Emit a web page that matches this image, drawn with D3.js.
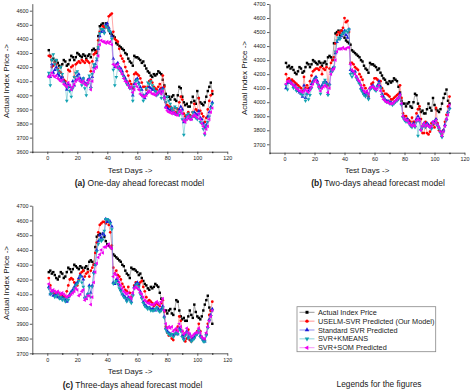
<!DOCTYPE html>
<html lang="en">
<head>
<meta charset="UTF-8">
<title>Actual vs predicted index price, three forecast horizons</title>
<script src="https://d3js.org/d3.v7.min.js"></script>
<style>
  body { margin: 0; background: #fff; }
  svg text { font-family: "Liberation Sans", Arial, sans-serif; fill: #1a1a1a; }
</style>
</head>
<body>
<div id="chart"></div>
<script>

// actual index price, 112 test days; panel b starts one day later, panel c two days later
var actualIndex = [4320,4280,4250,4260,4240,4250,4230,4210,4200,4220,
  4250,4240,4210,4220,4250,4280,4270,4250,4270,4300,
  4290,4280,4270,4290,4280,4260,4280,4290,4270,4320,
  4330,4320,4300,4420,4490,4500,4510,4480,4510,4490,
  4460,4440,4430,4420,4410,4370,4360,4350,4340,4330,
  4320,4300,4290,4260,4240,4230,4210,4280,4270,4270,
  4260,4250,4230,4240,4210,4190,4170,4160,4140,4130,
  4150,4140,4150,4170,4160,4150,4110,4070,4010,3990,
  3990,3970,3990,4000,3970,3960,4000,4060,4050,3990,
  3950,3930,3940,3920,3920,3950,3990,3960,3940,4030,
  3980,3950,3940,3930,3950,3990,4030,4060,4090,4010,
  3990,3900];
var dayOffset = [0, 1, 2];

// (a) one-day ahead
var uselmA = [4280,4275,4200,4210,4230,4220,4190,4170,4160,4130,
  4110,4100,4060,4180,4170,4200,4210,4130,4220,4230,
  4240,4230,4250,4240,4230,4250,4240,4230,4170,4240,
  4290,4300,4310,4390,4450,4470,4490,4480,4490,4480,
  4560,4570,4580,4450,4400,4390,4380,4330,4280,4260,
  4240,4200,4170,4140,4100,4080,4050,4150,4160,4150,
  4140,4120,4090,4060,4060,4040,4060,4100,4110,4090,
  4060,4050,4040,4060,4080,4050,4140,4060,3950,3930,
  3920,3920,3900,3890,3910,3880,3900,3950,3990,3970,
  3870,3850,3860,3880,3860,3850,3880,3940,3900,3890,
  3980,3890,3870,3850,3810,3840,3900,3960,4000,4030];
var svrA = [4140,4130,4220,4160,4180,4200,4150,4140,4120,4130,
  4100,4080,4040,4080,4060,4040,4100,4070,4110,4140,
  4150,4120,4100,4120,4090,4080,4110,4120,4060,4130,
  4200,4220,4250,4330,4420,4450,4460,4450,4500,4510,
  4480,4450,4420,4260,4200,4220,4230,4200,4190,4170,
  4140,4120,4100,4080,4060,4050,4000,4080,4110,4120,
  4090,4060,4040,4000,3980,4010,4020,4060,4050,4040,
  4040,4030,4010,4020,4040,4020,4050,3990,3920,3910,
  3900,3890,3910,3880,3870,3860,3870,3900,3920,3900,
  3810,3830,3850,3860,3840,3830,3850,3880,3870,3860,
  3890,3840,3830,3800,3770,3790,3850,3880,3920,3950];
var kmeansA = [4160,4070,4250,4290,4220,4250,4180,4160,4200,4150,
  4090,4070,3960,4060,4030,3990,4050,4130,4160,4170,
  4120,4100,4070,4120,4050,4000,4080,4140,4050,4150,
  4220,4200,4260,4340,4440,4470,4470,4440,4490,4480,
  4460,4450,4400,4180,4070,4130,4200,4180,4170,4150,
  4130,4110,4080,4070,4050,4060,3960,4060,4100,4110,
  4080,4040,4000,3960,4000,4050,4090,4080,4100,4070,
  4050,4030,4000,4010,4030,3980,4040,3970,3950,3990,
  3960,3940,3910,3890,3920,3910,3880,3860,3880,3830,
  3720,3820,3860,3870,3840,3850,3880,3850,3840,3830,
  3870,3810,3800,3760,3720,3780,3810,3850,3910,3940];
var somA = [4130,4140,4160,4140,4130,4140,4120,4110,4100,4110,
  4080,4070,4060,4090,4070,4040,4060,4080,4100,4110,
  4120,4100,4090,4100,4080,4070,4090,4110,4040,4100,
  4170,4190,4200,4280,4360,4390,4380,4380,4370,4380,
  4370,4380,4360,4220,4210,4200,4220,4190,4170,4150,
  4120,4100,4090,4070,4050,4060,4020,4040,4080,4060,
  4040,4010,4000,3990,3990,4000,4020,4030,4020,4010,
  4010,4000,4010,4020,4030,4010,4030,3980,3910,3890,
  3880,3880,3870,3880,3870,3860,3860,3880,3890,3870,
  3820,3810,3830,3850,3830,3830,3850,3860,3850,3840,
  3870,3830,3800,3780,3730,3760,3780,3830,3880,3910];

// (b) two-days ahead
var uselmB = [4200,4160,4170,4150,4160,4150,4140,4130,4120,4110,
  4100,4080,4180,4100,4120,4100,4150,4190,4220,4230,
  4240,4240,4230,4250,4200,4240,4230,4250,4120,4240,
  4280,4300,4320,4420,4480,4500,4490,4510,4530,4600,
  4570,4580,4500,4280,4280,4270,4250,4240,4230,4200,
  4180,4160,4120,4100,4060,4040,4100,4130,4140,4170,
  4170,4160,4130,4150,4100,4080,4060,4060,4050,4040,
  4020,4020,4030,4040,4050,4060,4120,4030,3920,3900,
  3900,3880,3870,3860,3890,3860,3860,3920,3950,3970,
  3880,3780,3780,3860,3780,3770,3790,3850,3840,3820,
  3960,3850,3800,3790,3770,3800,3860,3910,3970,4040];
var svrB = [4100,4140,4140,4150,4130,4110,4120,4090,4080,4070,
  4060,4040,4120,4030,4060,4080,4100,4130,4150,4170,
  4180,4150,4120,4100,4120,4140,4150,4140,4060,4130,
  4220,4240,4250,4350,4430,4450,4460,4470,4490,4510,
  4480,4460,4520,4230,4220,4210,4220,4180,4160,4140,
  4100,4080,4060,4050,4070,4030,4100,4110,4120,4100,
  4090,4120,4150,4110,4060,4040,4020,4010,4010,4000,
  4000,3990,4000,4010,4020,4030,4060,3990,3900,3880,
  3870,3880,3860,3840,3830,3850,3830,3880,3900,3880,
  3810,3830,3850,3830,3850,3840,3830,3820,3860,3860,
  3880,3840,3820,3790,3760,3800,3840,3880,3930,3960];
var kmeansB = [4120,4090,4150,4140,4130,4100,4110,4080,4100,4080,
  4060,4050,4090,4010,4060,4020,4050,4100,4140,4160,
  4170,4130,4100,4060,4110,4140,4160,4130,4050,4120,
  4230,4220,4250,4360,4440,4460,4450,4480,4490,4500,
  4510,4500,4520,4200,4180,4200,4210,4170,4150,4130,
  4090,4070,4050,4040,4060,4020,4090,4100,4110,4090,
  4080,4110,4130,4100,4050,4030,4010,4000,4000,3990,
  3990,3980,3990,4000,4010,4020,4040,3980,3890,3870,
  3860,3870,3850,3830,3820,3840,3820,3860,3760,3860,
  3800,3820,3840,3820,3840,3830,3820,3810,3850,3850,
  3870,3830,3810,3780,3750,3790,3830,3870,3920,3950];
var somB = [4130,4150,4150,4140,4130,4120,4110,4100,4090,4080,
  4080,4070,4080,4090,4080,4070,4090,4110,4130,4150,
  4160,4140,4110,4080,4100,4110,4120,4110,4070,4100,
  4200,4230,4240,4300,4360,4380,4380,4380,4390,4380,
  4380,4390,4390,4270,4230,4220,4200,4180,4160,4150,
  4120,4100,4080,4070,4080,4060,4100,4110,4110,4100,
  4090,4100,4120,4080,4040,4020,4010,4000,4000,3990,
  3990,3990,4000,4010,4020,4030,4050,3990,3900,3880,
  3870,3870,3850,3840,3830,3840,3830,3870,3880,3870,
  3800,3830,3850,3830,3840,3830,3820,3830,3860,3850,
  3870,3840,3820,3790,3760,3790,3830,3880,3910,3980];

// (c) three-days ahead
var uselmC = [4210,4160,4120,4110,4100,4100,4110,4080,4100,4090,
  4080,4080,4120,4160,4200,4210,4200,4180,4170,4160,
  4200,4240,4250,4260,4220,4240,4250,4220,4260,4280,
  4300,4380,4450,4520,4570,4580,4590,4590,4580,4600,
  4570,4520,4430,4280,4240,4260,4230,4220,4200,4170,
  4150,4130,4120,4150,4110,4080,4110,4160,4180,4170,
  4160,4180,4190,4150,4120,4080,4050,4060,4050,4040,
  4020,4030,4040,4030,4020,4040,4060,3980,3880,3840,
  3820,3830,3800,3790,3830,3860,3880,3950,3920,3850,
  3820,3780,3800,3860,3790,3780,3800,3810,3830,3850,
  3900,3850,3810,3790,3790,3830,3900,3960,3990,4050];
var svrC = [4150,4100,4120,4090,4090,4100,4080,4080,4070,4080,
  4070,4060,4050,4080,4100,4120,4130,4150,4170,4180,
  4210,4230,4220,4200,4080,4070,4100,4160,4110,4160,
  4250,4300,4400,4460,4500,4480,4510,4500,4610,4590,
  4600,4590,4560,4180,4170,4200,4190,4160,4130,4100,
  4090,4080,4060,4080,4070,4050,4100,4150,4170,4180,
  4170,4120,4080,4050,4030,4020,4010,4010,4000,4000,
  4000,3990,4010,4000,3990,4000,4020,3950,3870,3850,
  3840,3830,3830,3820,3830,3840,3830,3870,3860,3820,
  3800,3830,3850,3810,3830,3790,3800,3810,3830,3840,
  3860,3820,3810,3790,3780,3830,3880,3930,3960,4000];
var kmeansC = [4140,4100,4110,4120,4080,4090,4100,4070,4080,4060,
  4070,4050,4070,4060,4090,4110,4120,4140,4160,4170,
  4190,4220,4180,4150,4070,4080,4100,4150,4080,4150,
  4240,4300,4390,4440,4470,4460,4470,4530,4610,4610,
  4600,4580,4540,4170,4180,4190,4170,4140,4120,4100,
  4080,4070,4050,4070,4060,4040,4090,4140,4160,4170,
  4150,4100,4070,4040,4020,4010,4000,4010,3990,3990,
  3990,4000,4010,3990,3980,3990,4010,3940,3860,3840,
  3830,3820,3830,3810,3830,3840,3830,3860,3850,3810,
  3790,3820,3840,3800,3810,3780,3790,3800,3820,3830,
  3850,3810,3800,3780,3780,3820,3870,3920,3950,3990];
var somC = [4170,4140,4120,4130,4120,4110,4120,4110,4100,4110,
  4100,4090,4080,4090,4090,4100,4110,4120,4140,4130,
  4090,4100,4120,4130,4060,4070,4090,4090,4030,4080,
  4180,4250,4310,4350,4370,4400,4380,4420,4420,4430,
  4440,4420,4410,4220,4240,4230,4210,4180,4160,4140,
  4120,4110,4100,4110,4080,4070,4110,4140,4150,4140,
  4130,4110,4100,4080,4060,4050,4040,4040,4030,4030,
  4030,4040,4050,4040,4030,4050,4070,3990,3900,3870,
  3880,3870,3880,3850,3860,3870,3850,3900,3880,3850,
  3830,3840,3870,3840,3830,3810,3820,3830,3840,3840,
  3870,3840,3810,3800,3800,3840,3880,3920,3950,3990];

var seriesNames = ["Actual Index Price", "USELM-SVR Predicted (Our Model)",
  "Standard SVR Predicted", "SVR+KMEANS", "SVR+SOM Predicted"];
var xTicks = [0, 20, 40, 60, 80, 100, 120];
var xMinorTicks = [-10, 10, 30, 50, 70, 90, 110];
var yTicksA = [3600, 3700, 3800, 3900, 4000, 4100, 4200, 4300, 4400, 4500, 4600];
var yTicksBC = [3700, 3800, 3900, 4000, 4100, 4200, 4300, 4400, 4500, 4600, 4700];

var colors = ["#000000", "#ff0000", "#1c1cd8", "#12a2b2", "#f000f0"];
var lineColors = ["#555555", "#ff5050", "#4a4ae0", "#40b4c0", "#f050f0"];
var shapes = [
  {type: d3.symbolSquare, size: 6, rot: 0},
  {type: d3.symbolCircle, size: 6, rot: 0},
  {type: d3.symbolTriangle, size: 6, rot: 0},
  {type: d3.symbolTriangle, size: 6, rot: 180},
  {type: d3.symbolTriangle, size: 6, rot: -90}
];

var W = 474, H = 390;
var svg = d3.select("#chart").append("svg")
  .attr("width", W).attr("height", H);

var panels = [
  {tag: "(a)", caption: "One-day ahead forecast model", preds: [uselmA, svrA, kmeansA, somA],
   offset: dayOffset[0], yDomain: [3600, 4650], yTicks: yTicksA,
   xr: [32.3, 227.3], yr: [151.7, 3.65], yTitle: [8.5, 81], xTitle: [130, 173], cap: [139.5, 186]},
  {tag: "(b)", caption: "Two-days ahead forecast model", preds: [uselmB, svrB, kmeansB, somB],
   offset: dayOffset[1], yDomain: [3640, 4700], yTicks: yTicksBC,
   xr: [269.5, 464.5], yr: [152.7, 4], yTitle: [247, 78], xTitle: [367, 173], cap: [378, 185.7]},
  {tag: "(c)", caption: "Three-days ahead forecast model", preds: [uselmC, svrC, kmeansC, somC],
   offset: dayOffset[2], yDomain: [3700, 4700], yTicks: yTicksBC,
   xr: [32.3, 227.3], yr: [353.3, 205.7], yTitle: [8.5, 283], xTitle: [130, 374], cap: [132.5, 388]}
];

panels.forEach(function(p) {
  var x = d3.scaleLinear().domain([-10, 120]).range(p.xr);
  var y = d3.scaleLinear().domain(p.yDomain).range(p.yr);
  var g = svg.append("g");

  // axes
  var xa = g.append("g").attr("transform", "translate(0," + p.yr[0] + ")")
    .call(d3.axisBottom(x).tickValues(xTicks).tickSize(2.5).tickSizeOuter(0).tickPadding(2.2));
  g.append("g").attr("transform", "translate(0," + p.yr[0] + ")")
    .call(d3.axisBottom(x).tickValues(xMinorTicks).tickSize(1.5).tickSizeOuter(0).tickFormat(""))
    .select(".domain").remove();
  var ya = g.append("g").attr("transform", "translate(" + p.xr[0] + ",0)")
    .call(d3.axisLeft(y).tickValues(p.yTicks).tickFormat(d3.format("d"))
      .tickSize(2.5).tickSizeOuter(0).tickPadding(1.4));
  [xa, ya].forEach(function(a) {
    a.selectAll("text").attr("font-size", 5.4).attr("fill", "#222");
    a.selectAll("line, path").attr("stroke", "#333").attr("stroke-width", 0.8);
  });

  var days = p.preds[0].map(function(v, i) { return i + 1; });
  var all = [actualIndex.slice(p.offset, p.offset + days.length)].concat(p.preds);

  all.forEach(function(vals, si) {
    var line = d3.line().x(function(d, i) { return x(i + 1); }).y(function(d) { return y(d); });
    g.append("path").datum(vals)
      .attr("fill", "none").attr("stroke", lineColors[si]).attr("stroke-width", 0.5)
      .attr("d", line);
    var sym = d3.symbol().type(shapes[si].type).size(shapes[si].size);
    g.append("g").selectAll("path").data(vals).join("path")
      .attr("d", sym)
      .attr("fill", colors[si])
      .attr("transform", function(d, i) {
        return "translate(" + x(i + 1) + "," + y(d) + ") rotate(" + shapes[si].rot + ")";
      });
  });

  g.append("text")
    .attr("transform", "translate(" + p.yTitle[0] + "," + p.yTitle[1] + ") rotate(-90)")
    .attr("text-anchor", "middle").attr("font-size", 8)
    .text("Actual Index Price ->");
  g.append("text")
    .attr("x", p.xTitle[0]).attr("y", p.xTitle[1])
    .attr("text-anchor", "middle").attr("font-size", 8)
    .text("Test Days ->");
  var cap = g.append("text")
    .attr("x", p.cap[0]).attr("y", p.cap[1])
    .attr("text-anchor", "middle").attr("font-size", 8.5);
  cap.append("tspan").attr("font-weight", "bold").text(p.tag);
  cap.append("tspan").text(" " + p.caption);
});

// legend
var lg = svg.append("g");
lg.append("rect")
  .attr("x", 297).attr("y", 306.7).attr("width", 138.7).attr("height", 45)
  .attr("fill", "#fff").attr("stroke", "#888").attr("stroke-width", 0.8);
var rowY = d3.scalePoint().domain(d3.range(seriesNames.length)).range([312.3, 347.7]);
seriesNames.forEach(function(name, si) {
  var yy = rowY(si);
  lg.append("line").attr("x1", 299.5).attr("x2", 314.5).attr("y1", yy).attr("y2", yy)
    .attr("stroke", lineColors[si]).attr("stroke-width", 0.6);
  lg.append("path")
    .attr("d", d3.symbol().type(shapes[si].type).size(9))
    .attr("fill", colors[si])
    .attr("transform", "translate(307," + yy + ") rotate(" + shapes[si].rot + ")");
  lg.append("text").attr("x", 318).attr("y", yy).attr("dy", "0.36em")
    .attr("font-size", 7.3).text(name);
});
svg.append("text").attr("x", 379).attr("y", 387.3)
  .attr("text-anchor", "middle").attr("font-size", 8.3)
  .text("Legends for the figures");

</script>
</body>
</html>
